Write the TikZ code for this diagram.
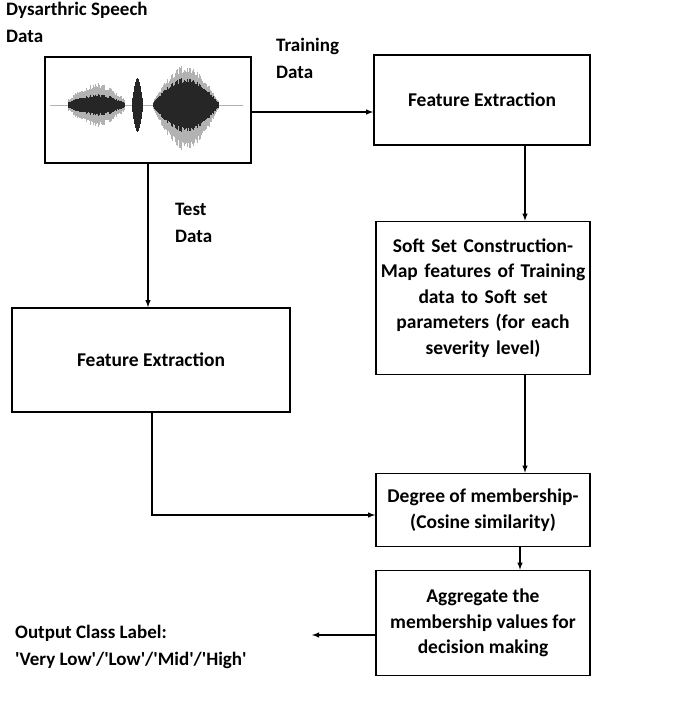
\documentclass[tikz,border=0pt]{standalone}
\usepackage{fontspec}
\setmainfont{Carlito}
\begin{document}
\begin{tikzpicture}[x=1pt,y=-1pt,
  box/.style={draw,line width=1.6pt,align=center,font=\bfseries\fontsize{19.5}{25.5}\selectfont},
  lbl/.style={align=left,font=\bfseries\fontsize{19}{27}\selectfont,inner sep=0pt},
  arr/.style={line width=1.4pt,-latex}]
\useasboundingbox (0,0) rectangle (685,724);
% waveform box
\node[draw,line width=1.6pt,minimum width=206,minimum height=106,inner sep=0pt] (wav) at (148,110) {};
\coordinate (wavr) at (251,112);
\draw[gray!60,line width=0.8pt] (50,105) -- (243,105);
\pgfmathsetseed{7}
\foreach \x in {68,69,...,124}{
  \pgfmathsetmacro{\a}{(6+16*sin(180*(\x-68)/56))*(0.7+0.3*rnd)}
  \draw[gray!60,line width=1pt] (\x,105-\a) -- (\x,105+\a);
  \draw[black!85,line width=1pt] (\x,105-0.5*\a) -- (\x,105+0.5*\a);}
\foreach \x in {131,132,...,143}{
  \pgfmathsetmacro{\a}{27*sin(180*(\x-131)/12)}
  \draw[black!85,line width=1pt] (\x,105-\a) -- (\x,105+\a);}
\foreach \x in {153,154,...,218}{
  \pgfmathsetmacro{\a}{(4+36*sin(180*(\x-153)/65))*(0.8+0.2*rnd)}
  \draw[gray!60,line width=1pt] (\x,105-\a) -- (\x,105+1.15*\a);
  \draw[black!85,line width=1pt] (\x,105-0.7*\a) -- (\x,105+0.7*\a);}
\node[lbl,anchor=north west] (t1) at (6,2) {Dysarthric Speech\\Data};
% boxes
\node[box,minimum width=216,minimum height=90] (fe1) at (482,100) {Feature Extraction};
\node[box,minimum width=214,minimum height=153,text width=208,inner sep=2pt] (ss) at (483,298) {Soft Set Construction-\\Map features of Training\\data to Soft set\\parameters (for each\\severity level)};
\node[box,minimum width=278,minimum height=104] (fe2) at (151,360) {Feature Extraction};
\node[box,minimum width=214,minimum height=73] (deg) at (483,510) {Degree of membership-\\(Cosine similarity)};
\node[box,minimum width=214,minimum height=105] (agg) at (483,623) {Aggregate the\\membership values for\\decision making};
\node[lbl,anchor=west] (out) at (15,647) {Output Class Label:\\\textquotesingle Very Low\textquotesingle/\textquotesingle Low\textquotesingle/\textquotesingle Mid\textquotesingle/\textquotesingle High\textquotesingle};
\node[lbl,anchor=west] (tr) at (276,58) {Training\\Data};
\node[lbl,anchor=west] (te) at (175,223) {Test\\Data};
% connectors
\draw[arr] (wavr) -- (fe1.west |- wavr);
\draw[arr] (wav.south) -- (fe2.north -| wav.south);
\draw[arr] (fe1.south -| 525,0) -- (ss.north -| 525,0);
\draw[arr] (ss.south -| 525,0) -- (deg.north -| 525,0);
\draw[arr] (fe2.south -| 152,0) |- (deg.west |- 0,515);
\draw[arr] (deg.south -| 520,0) -- (agg.north -| 520,0);
\draw[arr] (agg.west |- 0,635) -- (312,635);
\end{tikzpicture}
\end{document}
